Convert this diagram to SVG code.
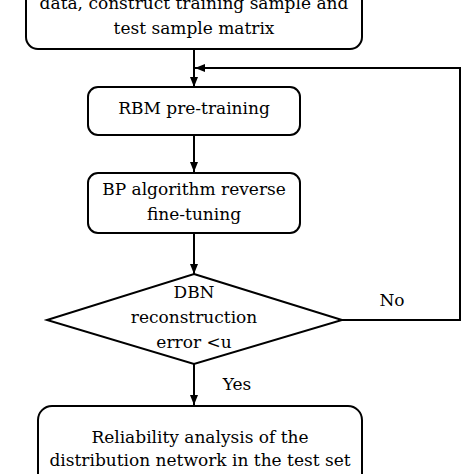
<svg xmlns="http://www.w3.org/2000/svg" width="474" height="474" viewBox="0 0 474 474">
<style>
.box{fill:#fff;stroke:#000;stroke-width:2}
.ln{fill:none;stroke:#000;stroke-width:2}
.t{font-family:'DejaVu Serif',serif;font-size:17px;fill:#000;text-anchor:middle}
</style>
<defs>
<marker id="ah" viewBox="0 0 10 10" refX="10" refY="5" markerWidth="10" markerHeight="10" markerUnits="userSpaceOnUse" orient="auto">
<path d="M0,1 L10,5 L0,9 Z" fill="#000"/>
</marker>
</defs>
<rect width="474" height="474" fill="#fff"/>
<g id="connectors">
<path class="ln" d="M194,49 V87" marker-end="url(#ah)"/>
<path class="ln" d="M342,320 H460 V68 H195" marker-end="url(#ah)"/>
<path class="ln" d="M194,135 V172" marker-end="url(#ah)"/>
<path class="ln" d="M194,233 V274" marker-end="url(#ah)"/>
<path class="ln" d="M194,364 V405" marker-end="url(#ah)"/>
<text class="t" x="392" y="306">No</text>
<text class="t" x="237" y="390">Yes</text>
</g>
<g id="n1">
<rect class="box" x="26" y="-30" width="336" height="79" rx="12"/>
<text class="t" x="194" y="9">data, construct training sample and</text>
<text class="t" x="194" y="34">test sample matrix</text>
</g>
<g id="n2">
<rect class="box" x="88" y="87" width="212" height="48" rx="10"/>
<text class="t" x="194" y="114">RBM pre-training</text>
</g>
<g id="n3">
<rect class="box" x="88" y="173" width="212" height="60" rx="10"/>
<text class="t" x="194" y="195">BP algorithm reverse</text>
<text class="t" x="194" y="220">fine-tuning</text>
</g>
<g id="n4">
<path class="box" d="M194,274 L342,320 L194,364 L47,320 Z"/>
<text class="t" x="194" y="298">DBN</text>
<text class="t" x="194" y="323">reconstruction</text>
<text class="t" x="194" y="348">error &lt;u</text>
</g>
<g id="n5">
<rect class="box" x="38" y="406" width="324" height="90" rx="14"/>
<text class="t" x="200" y="443">Reliability analysis of the</text>
<text class="t" x="200" y="466">distribution network in the test set</text>
</g>
</svg>
